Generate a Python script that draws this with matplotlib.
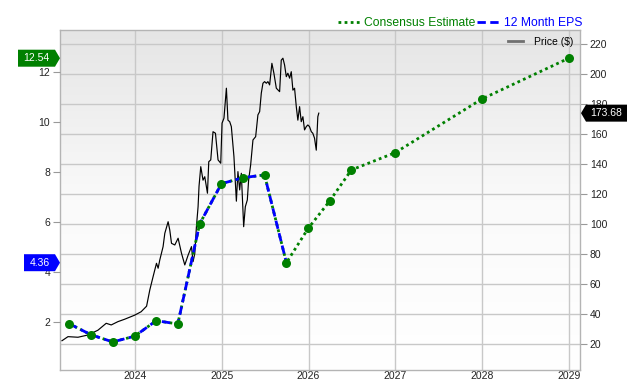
import numpy as np
import pandas as pd
import matplotlib
matplotlib.use("Agg")
import matplotlib.pyplot as plt
from matplotlib.patches import Polygon
from matplotlib.transforms import IdentityTransform
from matplotlib.lines import Line2D
from matplotlib.colors import LinearSegmentedColormap

plt.rcParams['font.family'] = ['Liberation Sans', 'DejaVu Sans']

# ---- data ----
eps_dates = ["2023-03-31", "2023-06-30", "2023-09-30", "2023-12-31",
             "2024-03-31", "2024-06-30", "2024-09-30", "2024-12-31",
             "2025-03-31", "2025-06-30", "2025-09-30"]
eps_values = [1.92, 1.48, 1.19, 1.42, 2.04, 1.91, 5.91, 7.52, 7.76, 7.87, 4.36]

est_dates = ["2025-12-31", "2026-03-31", "2026-06-30", "2026-12-31",
             "2027-12-31", "2028-12-31"]
est_values = [5.74, 6.83, 8.07, 8.76, 10.91, 12.54]

price_time = [2023.161, 2023.230, 2023.345, 2023.460, 2023.575, 2023.670, 2023.728,
              2023.805, 2023.882, 2023.997, 2024.072, 2024.135, 2024.172, 2024.210,
              2024.249, 2024.268, 2024.287, 2024.325, 2024.345, 2024.383, 2024.402,
              2024.422, 2024.460, 2024.498, 2024.537, 2024.575, 2024.613, 2024.652,
              2024.670, 2024.690, 2024.709, 2024.728, 2024.739, 2024.759, 2024.785,
              2024.805, 2024.836, 2024.851, 2024.874, 2024.900, 2024.928, 2024.958,
              2024.989, 2025.004, 2025.026, 2025.054, 2025.072, 2025.092, 2025.111,
              2025.141, 2025.169, 2025.187, 2025.207, 2025.226, 2025.253, 2025.272,
              2025.295, 2025.310, 2025.333, 2025.360, 2025.391, 2025.417, 2025.437,
              2025.456, 2025.475, 2025.494, 2025.514, 2025.532, 2025.552, 2025.578,
              2025.601, 2025.629, 2025.667, 2025.686, 2025.705, 2025.724, 2025.744,
              2025.762, 2025.782, 2025.801, 2025.820, 2025.839, 2025.859, 2025.877,
              2025.897, 2025.916, 2025.935, 2025.954, 2025.974, 2025.992, 2026.011,
              2026.032, 2026.049, 2026.069, 2026.089, 2026.107, 2026.118]
price_values = [22.0, 24.7, 24.3, 25.8, 29.0, 33.6, 32.5,
                34.7, 36.3, 39.0, 41.3, 45.0, 55.8, 64.7,
                73.6, 70.3, 75.8, 84.7, 93.6, 101.3, 95.8,
                86.9, 85.8, 90.3, 80.3, 72.5, 79.0, 84.7,
                74.7, 80.0, 98.0, 111.3, 125.0, 138.0, 129.0,
                131.3, 120.3, 141.3, 142.5, 161.3, 160.3, 142.5,
                140.3, 167.0, 170.3, 190.3, 169.0, 168.0, 164.7,
                144.7, 115.0, 134.7, 122.5, 133.6, 98.0, 111.3,
                115.8, 129.0, 139.0, 155.8, 158.0, 172.5, 174.7,
                187.0, 193.6, 194.7, 193.6, 194.7, 192.5, 206.9,
                200.3, 190.3, 188.0, 209.0, 210.3, 205.8, 198.0,
                200.3, 197.0, 201.3, 189.0, 190.3, 178.0, 169.0,
                178.0, 168.0, 171.3, 162.5, 164.7, 165.8, 164.7,
                161.3, 160.3, 157.0, 149.0, 171.3, 173.68]

year_ticks = [2024, 2025, 2026, 2027, 2028, 2029]
eps_ticks = [2, 4, 6, 8, 10, 12]
price_ticks = [20, 40, 60, 80, 100, 120, 140, 160, 180, 200, 220]

GREEN = "#008000"
BLUE = "#0000ff"
GRID = "#c8c8c8"
SPINE = "#b4b4b4"


def dec_year(s):
    ts = pd.Timestamp(s)
    start = pd.Timestamp(year=ts.year, month=1, day=1)
    end = pd.Timestamp(year=ts.year + 1, month=1, day=1)
    return ts.year + (ts - start) / (end - start)


eps_t = [dec_year(d) for d in eps_dates]
est_t = [dec_year(d) for d in est_dates]

W, H = 640, 380
fig = plt.figure(figsize=(W / 100, H / 100), dpi=100)
ax = fig.add_axes([60 / W, 10 / H, 520 / W, 340 / H])

# background gradient
cmap = LinearSegmentedColormap.from_list(
    "bg", [(0.0, "#ffffff"), (0.5, "#fafafa"), (1.0, "#e5e5e5")])
ax.imshow(np.linspace(0, 1, 256).reshape(-1, 1), extent=[0, 1, 0, 1],
          transform=ax.transAxes, aspect="auto", cmap=cmap, origin="lower", zorder=0)

ax_eps = ax.twinx()

# price axis (right)
ax.set_xlim(2023.138, 2029.126)
ax.set_ylim(2.47, 229.1)
ax.yaxis.tick_right()
ax.set_yticks(price_ticks)
ax.set_xticks(year_ticks)
ax.set_xticklabels([str(y) for y in year_ticks])
ax.grid(True, color=GRID, lw=1.0, zorder=1)
ax.set_axisbelow(True)
ax.tick_params(axis="x", length=0, pad=0.5, labelsize=7.5, colors="#222222")
ax.tick_params(axis="y", length=5, width=0.8, color="#999999", pad=2,
               labelsize=7.5, labelcolor="#222222")
for sp in ax.spines.values():
    sp.set_color(SPINE)
    sp.set_linewidth(1.0)

ax.plot(price_time, price_values, color="black", lw=0.85, zorder=3)
ax.legend([Line2D([], [], color="#707070", lw=2)], ["Price ($)"], loc="upper right",
          bbox_to_anchor=(1.0, 1.0), frameon=False, fontsize=7.5,
          handlelength=1.45, handletextpad=1.0, borderpad=0.35, borderaxespad=0.3)

# EPS axis (left)
ax_eps.yaxis.set_ticks_position("left")
ax_eps.yaxis.set_label_position("left")
ax_eps.set_ylim(0.068, 13.668)
ax_eps.set_yticks(eps_ticks)
ax_eps.tick_params(axis="y", length=5, width=0.8, color="#999999", pad=2,
                   labelsize=7.5, labelcolor="#222222")
for sp in ax_eps.spines.values():
    sp.set_visible(False)

all_t = eps_t + est_t
all_v = eps_values + est_values
ax_eps.plot(all_t, all_v, color=GREEN, ls=(0, (1, 1.2)), lw=2, zorder=3)
ax_eps.plot(eps_t, eps_values, color=BLUE, ls=(0, (3, 1.6)), lw=2, zorder=4)
ax_eps.plot(all_t, all_v, "o", color=GREEN, ms=6.5, mew=0, zorder=5)

# top legend
handles = [Line2D([], [], color=GREEN, ls=(0, (1, 1.2)), lw=2),
           Line2D([], [], color=BLUE, ls=(0, (3, 1.6)), lw=2)]
leg = fig.legend(handles, ["Consensus Estimate", "12 Month EPS"], loc="center right",
                 bbox_to_anchor=(582 / W, 1 - 23.5 / H), ncol=2, frameon=False,
                 fontsize=8.7, handlelength=1.8, handletextpad=0.4,
                 columnspacing=0.1, borderpad=0, borderaxespad=0)
leg.get_texts()[0].set_color(GREEN)
leg.get_texts()[1].set_color(BLUE)


# value tags
def tag(x0, x1, yc, color, text, point_right=True, h=17, tip=5):
    if point_right:
        pts = [(x0, yc - h / 2), (x1 - tip, yc - h / 2), (x1, yc),
               (x1 - tip, yc + h / 2), (x0, yc + h / 2)]
        xc = (x0 + x1 - tip) / 2
    else:
        pts = [(x0, yc), (x0 + tip, yc - h / 2), (x1, yc - h / 2),
               (x1, yc + h / 2), (x0 + tip, yc + h / 2)]
        xc = (x0 + tip + x1) / 2
    fig.add_artist(Polygon(pts, closed=True, transform=IdentityTransform(),
                           facecolor=color, edgecolor="none", zorder=10))
    fig.text(xc, yc, text, transform=IdentityTransform(), color="white",
             fontsize=7.5, ha="center", va="center", zorder=11)


ax_left = ax.transAxes.transform((0, 0))[0]
ax_right = ax.transAxes.transform((1, 0))[0]
y_est = ax_eps.transData.transform((0, est_values[-1]))[1]
y_eps = ax_eps.transData.transform((0, eps_values[-1]))[1]
y_px = ax.transData.transform((0, price_values[-1]))[1]
tag(ax_left - 42, ax_left, y_est, GREEN, f"{est_values[-1]:.2f}")
tag(ax_left - 36, ax_left, y_eps, BLUE, f"{eps_values[-1]:.2f}")
tag(ax_right + 1, ax_right + 47, y_px, "black", f"{price_values[-1]:.2f}", point_right=False)

fig.savefig("out.png", dpi=100)
